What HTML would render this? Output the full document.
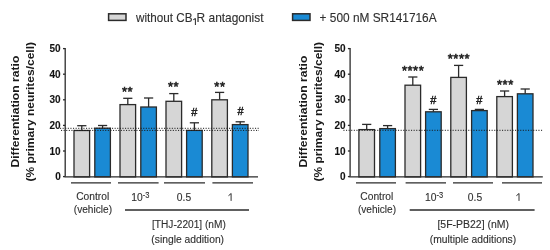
<!DOCTYPE html>
<html><head><meta charset="utf-8"><style>
html,body{margin:0;padding:0;background:#fff;width:550px;height:250px;overflow:hidden}
svg{display:block;will-change:transform;font-family:"Liberation Sans",sans-serif}
text{stroke:#303030;stroke-width:0.12px}
</style></head><body>
<svg width="550" height="250" viewBox="0 0 550 250">
<rect width="550" height="250" fill="#fff"/>

<rect x="108.6" y="13.8" width="17.4" height="6.6" fill="#d6d6d6" stroke="#2b2b2b" stroke-width="1.5"/>
<text transform="translate(136,22.0) scale(1,1.09)" font-size="11.7" fill="#303030">without CB</text>
<path d="M195.4,18.3 V25.0 M195.4,18.4 L193.3,19.9" stroke="#303030" stroke-width="1.05" fill="none"/>
<text transform="translate(196.6,22.0) scale(1,1.09)" font-size="11.7" fill="#303030" textLength="66.9" lengthAdjust="spacingAndGlyphs">R antagonist</text>
<rect x="292.6" y="13.8" width="17.4" height="6.6" fill="#1a8ad4" stroke="#2b2b2b" stroke-width="1.5"/>
<text transform="translate(319.6,22.0) scale(1,1.09)" font-size="11.7" fill="#303030" textLength="117" lengthAdjust="spacingAndGlyphs">+ 500 nM SR141716A</text>

<text transform="translate(18.6,111.6) rotate(-90) scale(1.065,1)" text-anchor="middle" font-weight="bold" font-size="11.4" fill="#1a1a1a" style="stroke-width:0">Differentiation ratio</text>
<text transform="translate(34.2,111.75) rotate(-90) scale(1.055,1)" text-anchor="middle" font-weight="bold" font-size="11.4" fill="#1a1a1a" style="stroke-width:0">(% primary neurites/cell)</text>
<line x1="63.0" y1="176.60" x2="65.2" y2="176.60" stroke="#2b2b2b" stroke-width="1.3"/>
<text x="60.7" y="180.20" text-anchor="end" font-weight="bold" font-size="10" fill="#111">0</text>
<line x1="63.0" y1="151.00" x2="65.2" y2="151.00" stroke="#2b2b2b" stroke-width="1.3"/>
<text x="60.7" y="154.60" text-anchor="end" font-weight="bold" font-size="10" fill="#111">10</text>
<line x1="63.0" y1="125.40" x2="65.2" y2="125.40" stroke="#2b2b2b" stroke-width="1.3"/>
<text x="60.7" y="129.00" text-anchor="end" font-weight="bold" font-size="10" fill="#111">20</text>
<line x1="63.0" y1="99.80" x2="65.2" y2="99.80" stroke="#2b2b2b" stroke-width="1.3"/>
<text x="60.7" y="103.40" text-anchor="end" font-weight="bold" font-size="10" fill="#111">30</text>
<line x1="63.0" y1="74.20" x2="65.2" y2="74.20" stroke="#2b2b2b" stroke-width="1.3"/>
<text x="60.7" y="77.80" text-anchor="end" font-weight="bold" font-size="10" fill="#111">40</text>
<line x1="63.0" y1="48.60" x2="65.2" y2="48.60" stroke="#2b2b2b" stroke-width="1.3"/>
<text x="60.7" y="52.20" text-anchor="end" font-weight="bold" font-size="10" fill="#111">50</text>
<line x1="81.8" y1="130.5" x2="81.8" y2="125.7" stroke="#2b2b2b" stroke-width="1.3"/>
<line x1="77.2" y1="125.7" x2="86.39999999999999" y2="125.7" stroke="#2b2b2b" stroke-width="1.3"/>
<rect x="74.0" y="130.5" width="15.6" height="46.40" fill="#d6d6d6" stroke="#2b2b2b" stroke-width="1.3"/>
<line x1="102.6" y1="128.2" x2="102.6" y2="125.5" stroke="#2b2b2b" stroke-width="1.3"/>
<line x1="98.0" y1="125.5" x2="107.19999999999999" y2="125.5" stroke="#2b2b2b" stroke-width="1.3"/>
<rect x="94.8" y="128.2" width="15.6" height="48.70" fill="#1a8ad4" stroke="#2b2b2b" stroke-width="1.3"/>
<line x1="127.8" y1="104.6" x2="127.8" y2="98.3" stroke="#2b2b2b" stroke-width="1.3"/>
<line x1="123.2" y1="98.3" x2="132.4" y2="98.3" stroke="#2b2b2b" stroke-width="1.3"/>
<rect x="120.0" y="104.6" width="15.6" height="72.30" fill="#d6d6d6" stroke="#2b2b2b" stroke-width="1.3"/>
<text x="127.5" y="96.40" text-anchor="middle" font-size="13" letter-spacing="0.5" style="stroke:#222;stroke-width:0.55px" fill="#222">**</text>
<line x1="148.60000000000002" y1="107.0" x2="148.60000000000002" y2="98.0" stroke="#2b2b2b" stroke-width="1.3"/>
<line x1="144.00000000000003" y1="98.0" x2="153.20000000000002" y2="98.0" stroke="#2b2b2b" stroke-width="1.3"/>
<rect x="140.8" y="107.0" width="15.6" height="69.90" fill="#1a8ad4" stroke="#2b2b2b" stroke-width="1.3"/>
<line x1="173.8" y1="101.3" x2="173.8" y2="93.6" stroke="#2b2b2b" stroke-width="1.3"/>
<line x1="169.20000000000002" y1="93.6" x2="178.4" y2="93.6" stroke="#2b2b2b" stroke-width="1.3"/>
<rect x="166.0" y="101.3" width="15.6" height="75.60" fill="#d6d6d6" stroke="#2b2b2b" stroke-width="1.3"/>
<text x="173.50000000000003" y="91.40" text-anchor="middle" font-size="13" letter-spacing="0.5" style="stroke:#222;stroke-width:0.55px" fill="#222">**</text>
<line x1="194.4" y1="130.4" x2="194.4" y2="122.8" stroke="#2b2b2b" stroke-width="1.3"/>
<line x1="189.8" y1="122.8" x2="199.0" y2="122.8" stroke="#2b2b2b" stroke-width="1.3"/>
<rect x="186.6" y="130.4" width="15.6" height="46.50" fill="#1a8ad4" stroke="#2b2b2b" stroke-width="1.3"/>
<text x="194.3" y="116.10" text-anchor="middle" font-size="11" style="stroke:#222;stroke-width:0.45px" fill="#222">#</text>
<line x1="219.60000000000002" y1="99.8" x2="219.60000000000002" y2="92.4" stroke="#2b2b2b" stroke-width="1.3"/>
<line x1="215.00000000000003" y1="92.4" x2="224.20000000000002" y2="92.4" stroke="#2b2b2b" stroke-width="1.3"/>
<rect x="211.8" y="99.8" width="15.6" height="77.10" fill="#d6d6d6" stroke="#2b2b2b" stroke-width="1.3"/>
<text x="219.90000000000003" y="90.80" text-anchor="middle" font-size="13" letter-spacing="0.5" style="stroke:#222;stroke-width:0.55px" fill="#222">**</text>
<line x1="240.20000000000002" y1="124.6" x2="240.20000000000002" y2="121.8" stroke="#2b2b2b" stroke-width="1.3"/>
<line x1="235.60000000000002" y1="121.8" x2="244.8" y2="121.8" stroke="#2b2b2b" stroke-width="1.3"/>
<rect x="232.4" y="124.6" width="15.6" height="52.30" fill="#1a8ad4" stroke="#2b2b2b" stroke-width="1.3"/>
<text x="240.60000000000002" y="114.80" text-anchor="middle" font-size="11" style="stroke:#222;stroke-width:0.45px" fill="#222">#</text>
<line x1="60" y1="128.3" x2="259" y2="128.3" stroke="#1a1a1a" stroke-width="1" stroke-dasharray="1.1 1.5"/>
<line x1="61" y1="130.4" x2="259" y2="130.4" stroke="#1a1a1a" stroke-width="1" stroke-dasharray="1.1 1.5"/>
<line x1="65.2" y1="48.00" x2="65.2" y2="176.6" stroke="#2b2b2b" stroke-width="1.3"/>
<line x1="64.60000000000001" y1="176.9" x2="258" y2="176.9" stroke="#2b2b2b" stroke-width="1.3"/>
<line x1="71" y1="182.9" x2="111" y2="182.9" stroke="#2b2b2b" stroke-width="1.3"/>
<line x1="118" y1="182.9" x2="158.6" y2="182.9" stroke="#2b2b2b" stroke-width="1.3"/>
<line x1="164" y1="182.9" x2="205" y2="182.9" stroke="#2b2b2b" stroke-width="1.3"/>
<line x1="212.4" y1="182.9" x2="253" y2="182.9" stroke="#2b2b2b" stroke-width="1.3"/>
<text transform="translate(92.70,199.60) scale(1,1.09)" text-anchor="middle" font-size="10.3" font-weight="normal" fill="#303030" textLength="33" lengthAdjust="spacingAndGlyphs">Control</text>
<text transform="translate(92.90,212.80) scale(1,1.09)" text-anchor="middle" font-size="10.3" font-weight="normal" fill="#303030" textLength="38.2" lengthAdjust="spacingAndGlyphs">(vehicle)</text>
<text transform="translate(140.30,201.00) scale(1,1.09)" text-anchor="middle" font-size="10.3" font-weight="normal" fill="#303030" >10<tspan font-size="7.5" dy="-3.2">-3</tspan></text>
<text transform="translate(184.00,201.00) scale(1,1.09)" text-anchor="middle" font-size="10.3" font-weight="normal" fill="#303030" >0.5</text>
<path d="M231.10,193.40 V200.90 M231.10,193.60 L228.50,195.70" stroke="#303030" stroke-width="1.0" fill="none"/>
<text transform="translate(188.90,227.90) scale(1,1.09)" text-anchor="middle" font-size="10.3" font-weight="normal" fill="#303030" textLength="73.8" lengthAdjust="spacingAndGlyphs">[THJ-2201] (nM)</text>
<text transform="translate(187.70,242.80) scale(1,1.09)" text-anchor="middle" font-size="10.3" font-weight="normal" fill="#303030" >(single addition)</text>
<line x1="125" y1="210.0" x2="249" y2="210.0" stroke="#2b2b2b" stroke-width="1.3"/>
<text transform="translate(307.2,111.6) rotate(-90) scale(1.065,1)" text-anchor="middle" font-weight="bold" font-size="11.4" fill="#1a1a1a" style="stroke-width:0">Differentiation ratio</text>
<text transform="translate(322.2,111.75) rotate(-90) scale(1.055,1)" text-anchor="middle" font-weight="bold" font-size="11.4" fill="#1a1a1a" style="stroke-width:0">(% primary neurites/cell)</text>
<line x1="347.90000000000003" y1="176.60" x2="350.1" y2="176.60" stroke="#2b2b2b" stroke-width="1.3"/>
<text x="345.6" y="180.20" text-anchor="end" font-weight="bold" font-size="10" fill="#111">0</text>
<line x1="347.90000000000003" y1="151.00" x2="350.1" y2="151.00" stroke="#2b2b2b" stroke-width="1.3"/>
<text x="345.6" y="154.60" text-anchor="end" font-weight="bold" font-size="10" fill="#111">10</text>
<line x1="347.90000000000003" y1="125.40" x2="350.1" y2="125.40" stroke="#2b2b2b" stroke-width="1.3"/>
<text x="345.6" y="129.00" text-anchor="end" font-weight="bold" font-size="10" fill="#111">20</text>
<line x1="347.90000000000003" y1="99.80" x2="350.1" y2="99.80" stroke="#2b2b2b" stroke-width="1.3"/>
<text x="345.6" y="103.40" text-anchor="end" font-weight="bold" font-size="10" fill="#111">30</text>
<line x1="347.90000000000003" y1="74.20" x2="350.1" y2="74.20" stroke="#2b2b2b" stroke-width="1.3"/>
<text x="345.6" y="77.80" text-anchor="end" font-weight="bold" font-size="10" fill="#111">40</text>
<line x1="347.90000000000003" y1="48.60" x2="350.1" y2="48.60" stroke="#2b2b2b" stroke-width="1.3"/>
<text x="345.6" y="52.20" text-anchor="end" font-weight="bold" font-size="10" fill="#111">50</text>
<line x1="366.7" y1="129.6" x2="366.7" y2="124.4" stroke="#2b2b2b" stroke-width="1.3"/>
<line x1="362.09999999999997" y1="124.4" x2="371.3" y2="124.4" stroke="#2b2b2b" stroke-width="1.3"/>
<rect x="358.9" y="129.6" width="15.6" height="47.30" fill="#d6d6d6" stroke="#2b2b2b" stroke-width="1.3"/>
<line x1="387.6" y1="128.6" x2="387.6" y2="125.6" stroke="#2b2b2b" stroke-width="1.3"/>
<line x1="383.0" y1="125.6" x2="392.20000000000005" y2="125.6" stroke="#2b2b2b" stroke-width="1.3"/>
<rect x="379.8" y="128.6" width="15.6" height="48.30" fill="#1a8ad4" stroke="#2b2b2b" stroke-width="1.3"/>
<line x1="412.8" y1="85.2" x2="412.8" y2="77.0" stroke="#2b2b2b" stroke-width="1.3"/>
<line x1="408.2" y1="77.0" x2="417.40000000000003" y2="77.0" stroke="#2b2b2b" stroke-width="1.3"/>
<rect x="405.0" y="85.2" width="15.6" height="91.70" fill="#d6d6d6" stroke="#2b2b2b" stroke-width="1.3"/>
<text x="413.1" y="74.60" text-anchor="middle" font-size="13" letter-spacing="0.5" style="stroke:#222;stroke-width:0.55px" fill="#222">****</text>
<line x1="433.40000000000003" y1="111.8" x2="433.40000000000003" y2="109.4" stroke="#2b2b2b" stroke-width="1.3"/>
<line x1="428.8" y1="109.4" x2="438.00000000000006" y2="109.4" stroke="#2b2b2b" stroke-width="1.3"/>
<rect x="425.6" y="111.8" width="15.6" height="65.10" fill="#1a8ad4" stroke="#2b2b2b" stroke-width="1.3"/>
<text x="433.3" y="104.15" text-anchor="middle" font-size="11" style="stroke:#222;stroke-width:0.45px" fill="#222">#</text>
<line x1="458.6" y1="77.4" x2="458.6" y2="65.4" stroke="#2b2b2b" stroke-width="1.3"/>
<line x1="454.0" y1="65.4" x2="463.20000000000005" y2="65.4" stroke="#2b2b2b" stroke-width="1.3"/>
<rect x="450.8" y="77.4" width="15.6" height="99.50" fill="#d6d6d6" stroke="#2b2b2b" stroke-width="1.3"/>
<text x="458.90000000000003" y="63.10" text-anchor="middle" font-size="13" letter-spacing="0.5" style="stroke:#222;stroke-width:0.55px" fill="#222">****</text>
<line x1="479.40000000000003" y1="110.6" x2="479.40000000000003" y2="109.4" stroke="#2b2b2b" stroke-width="1.3"/>
<line x1="474.8" y1="109.4" x2="484.00000000000006" y2="109.4" stroke="#2b2b2b" stroke-width="1.3"/>
<rect x="471.6" y="110.6" width="15.6" height="66.30" fill="#1a8ad4" stroke="#2b2b2b" stroke-width="1.3"/>
<text x="479.3" y="104.20" text-anchor="middle" font-size="11" style="stroke:#222;stroke-width:0.45px" fill="#222">#</text>
<line x1="504.6" y1="96.6" x2="504.6" y2="91.0" stroke="#2b2b2b" stroke-width="1.3"/>
<line x1="500.0" y1="91.0" x2="509.20000000000005" y2="91.0" stroke="#2b2b2b" stroke-width="1.3"/>
<rect x="496.8" y="96.6" width="15.6" height="80.30" fill="#d6d6d6" stroke="#2b2b2b" stroke-width="1.3"/>
<text x="505.40000000000003" y="88.80" text-anchor="middle" font-size="13" letter-spacing="0.5" style="stroke:#222;stroke-width:0.55px" fill="#222">***</text>
<line x1="525.1999999999999" y1="93.8" x2="525.1999999999999" y2="89.0" stroke="#2b2b2b" stroke-width="1.3"/>
<line x1="520.5999999999999" y1="89.0" x2="529.8" y2="89.0" stroke="#2b2b2b" stroke-width="1.3"/>
<rect x="517.4" y="93.8" width="15.6" height="83.10" fill="#1a8ad4" stroke="#2b2b2b" stroke-width="1.3"/>
<line x1="343.4" y1="130.3" x2="543" y2="130.3" stroke="#1a1a1a" stroke-width="1" stroke-dasharray="1.1 1.5"/>
<line x1="350.1" y1="48.00" x2="350.1" y2="176.6" stroke="#2b2b2b" stroke-width="1.3"/>
<line x1="349.5" y1="176.9" x2="542.8" y2="176.9" stroke="#2b2b2b" stroke-width="1.3"/>
<line x1="356" y1="182.9" x2="396" y2="182.9" stroke="#2b2b2b" stroke-width="1.3"/>
<line x1="405.6" y1="182.9" x2="446" y2="182.9" stroke="#2b2b2b" stroke-width="1.3"/>
<line x1="453" y1="182.9" x2="493" y2="182.9" stroke="#2b2b2b" stroke-width="1.3"/>
<line x1="502" y1="182.9" x2="542" y2="182.9" stroke="#2b2b2b" stroke-width="1.3"/>
<text transform="translate(376.80,199.60) scale(1,1.09)" text-anchor="middle" font-size="10.3" font-weight="normal" fill="#303030" textLength="33" lengthAdjust="spacingAndGlyphs">Control</text>
<text transform="translate(377.00,212.80) scale(1,1.09)" text-anchor="middle" font-size="10.3" font-weight="normal" fill="#303030" textLength="38.2" lengthAdjust="spacingAndGlyphs">(vehicle)</text>
<text transform="translate(434.10,201.00) scale(1,1.09)" text-anchor="middle" font-size="10.3" font-weight="normal" fill="#303030" >10<tspan font-size="7.5" dy="-3.2">-3</tspan></text>
<text transform="translate(475.00,201.00) scale(1,1.09)" text-anchor="middle" font-size="10.3" font-weight="normal" fill="#303030" >0.5</text>
<path d="M519.00,193.40 V200.90 M519.00,193.60 L516.40,195.70" stroke="#303030" stroke-width="1.0" fill="none"/>
<text transform="translate(473.20,227.90) scale(1,1.09)" text-anchor="middle" font-size="10.3" font-weight="normal" fill="#303030" textLength="71.6" lengthAdjust="spacingAndGlyphs">[5F-PB22] (nM)</text>
<text transform="translate(473.00,242.80) scale(1,1.09)" text-anchor="middle" font-size="10.3" font-weight="normal" fill="#303030" >(multiple additions)</text>
<line x1="409.7" y1="210.0" x2="534.6" y2="210.0" stroke="#2b2b2b" stroke-width="1.3"/>
</svg>
</body></html>
